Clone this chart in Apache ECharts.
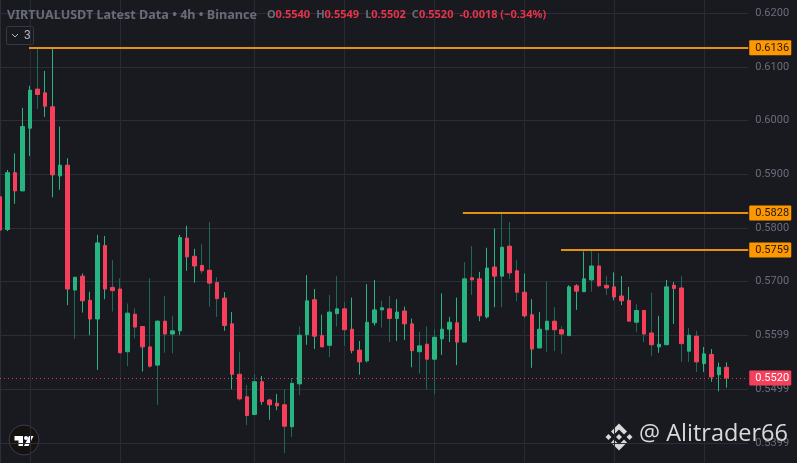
<!DOCTYPE html>
<html><head><meta charset="utf-8">
<style>html,body{margin:0;padding:0;background:#181a20}#c{width:797px;height:463px}</style>
<script src="https://cdn.jsdelivr.net/npm/echarts@6/dist/echarts.min.js"></script>
</head><body><div id="c"></div>
<script>
const opens = [.5858,.5797,.5903,.5869,.5986,.6059,.6052,.6026,.5897,.5917,.5684,.5710,.5665,.5630,.5767,.5689,.5686,.5569,.5639,.5616,.5578,.5544,.5626,.5602,.5608,.5781,.5747,.5730,.5721,.5698,.5669,.5621,.5527,.5485,.5452,.5513,.5479,.5473,.5470,.5429,.5509,.5601,.5666,.5599,.5581,.5640,.5649,.5611,.5572,.5552,.5623,.5647,.5649,.5631,.5645,.5621,.5569,.5583,.5555,.5593,.5611,.5623,.5587,.5707,.5705,.5634,.5727,.5710,.5766,.5720,.5680,.5638,.5576,.5610,.5626,.5610,.5599,.5692,.5681,.5703,.5729,.5693,.5690,.5673,.5665,.5624,.5646,.5604,.5578,.5582,.5693,.5688,.5570,.5598,.5547,.5564,.5526,.5540];
const closes = [.5796,.5903,.5869,.5989,.6057,.6049,.6027,.5899,.5917,.5686,.5708,.5664,.5630,.5772,.5686,.5683,.5567,.5641,.5615,.5578,.5542,.5626,.5602,.5608,.5782,.5746,.5729,.5720,.5697,.5668,.5618,.5527,.5481,.5450,.5513,.5476,.5470,.5468,.5430,.5510,.5600,.5664,.5598,.5578,.5643,.5649,.5610,.5571,.5550,.5624,.5647,.5651,.5631,.5643,.5621,.5571,.5580,.5555,.5596,.5611,.5624,.5587,.5705,.5703,.5636,.5725,.5710,.5764,.5716,.5680,.5636,.5574,.5611,.5626,.5610,.5602,.5690,.5682,.5705,.5729,.5692,.5688,.5671,.5664,.5626,.5646,.5602,.5582,.5583,.5690,.5687,.5584,.5600,.5550,.5565,.5522,.5540,.5520];
const highs = [.5858,.5908,.5939,.6024,.6065,.6136,.6093,.6136,.5989,.5930,.5708,.5715,.5681,.5787,.5785,.5740,.5706,.5659,.5650,.5616,.5706,.5628,.5673,.5636,.5787,.5804,.5761,.5770,.5811,.5708,.5680,.5643,.5569,.5507,.5527,.5524,.5481,.5490,.5499,.5520,.5616,.5712,.5686,.5638,.5675,.5710,.5662,.5670,.5589,.5695,.5703,.5664,.5673,.5667,.5653,.5631,.5606,.5616,.5611,.5678,.5634,.5670,.5736,.5766,.5718,.5763,.5799,.5830,.5811,.5740,.5715,.5667,.5643,.5700,.5652,.5617,.5693,.5695,.5756,.5757,.5753,.5710,.5717,.5710,.5690,.5658,.5647,.5679,.5636,.5703,.5699,.5710,.5613,.5608,.5578,.5574,.5549,.5549];
const lows = [.5794,.5794,.5845,.5869,.5934,.6022,.6007,.5857,.5871,.5656,.5593,.5642,.5600,.5535,.5667,.5644,.5567,.5542,.5594,.5532,.5539,.5470,.5567,.5566,.5600,.5720,.5698,.5715,.5653,.5634,.5608,.5499,.5478,.5432,.5452,.5470,.5442,.5460,.5380,.5410,.5488,.5582,.5574,.5578,.5559,.5616,.5580,.5566,.5526,.5549,.5618,.5614,.5587,.5589,.5591,.5540,.5528,.5499,.5490,.5563,.5587,.5544,.5587,.5675,.5626,.5631,.5652,.5652,.5705,.5663,.5633,.5539,.5576,.5569,.5570,.5565,.5599,.5647,.5681,.5681,.5690,.5675,.5665,.5656,.5626,.5606,.5587,.5561,.5567,.5582,.5621,.5550,.5550,.5531,.5531,.5513,.5495,.5502];
const dimWicks = [5,10,15,16,17,18,20,21,22,23,27,28,29,32,33,34,38,39,40,44,45,46,51,52,56,57,58,62,63,67,68,69,73,74,75,79,80,81,85,86,87,91,92,93];
const priceTicks = [.62,.61,.60,.59,.58,.57,.5599,.5499,.5399];
const gridCandles = [4,16,34,46,58,70,82,94];
const levelValues = [.6136,.5828,.5759];
const levelStarts = [3.87,61.8,74.9];
const lastClose = .5520;
const titleText = 'VIRTUALUSDT Latest Data • 4h • Binance';
const change = '-0.0018 (−0.34%)';
const watermark = '@ Alitrader66';

const RED='#f6405b', GREEN='#27b480', DRED='#7d2c3f', DGREEN='#1c6a55', GRID='#2a2e39';
const xs = opens.map((_,i)=>i);
const wickData = xs.map(i=>{
  const dim = dimWicks.includes(i);
  const up = dim?DGREEN:'#27b480', dn = dim?DRED:'#f23f5d';
  return {value:[i,opens[i],closes[i],lows[i],highs[i]],
    itemStyle:{color:up,color0:dn,borderColor:up,borderColor0:dn}};
});
const bodyData = xs.map(i=>[i,opens[i],closes[i],Math.min(opens[i],closes[i]),Math.max(opens[i],closes[i])]);
const fmt = v=>v.toFixed(4);
const last = opens.length-1;
const ohlc = `{g|O}{r|${fmt(opens[last])}}{s| }{g|H}{r|${fmt(highs[last])}}{s| }{g|L}{r|${fmt(lows[last])}}{s| }{g|C}{r|${fmt(closes[last])}}{s| }{r|${change}}`;
const XMAX = 99.9;
const levelLines = levelValues.map((v,k)=>[
  {coord:[levelStarts[k],v],lineStyle:{color:'#e8900f',width:2,type:'solid'},
   label:{show:true,position:'end',distance:1,formatter:fmt(v),color:'#1d1a10',fontSize:11,fontFamily:'Roboto',
     backgroundColor:'#ff9800',padding:[2,5,2,6],lineHeight:11,width:31,borderRadius:1}},
  {coord:[XMAX,v]}
]);
const priceLine = [
  {coord:[0,lastClose],lineStyle:{color:'#d63a52',width:1,type:[1,3]},
   label:{show:true,position:'end',distance:1,formatter:fmt(lastClose),color:'#ffffff',fontSize:11,fontFamily:'Roboto',
     backgroundColor:'#f6405b',padding:[2,5,2,6],lineHeight:11,width:31,borderRadius:1}},
  {coord:[XMAX,lastClose]}
];
const poly=(pts,fill,cx=0,cy=0)=>({type:'polygon',silent:true,shape:{points:pts.map(p=>[p[0]+cx,p[1]+cy])},style:{fill}});
const WM='#d9d9d9', BX=619, BY=437;
const graphics=[
  {type:'rect',silent:true,shape:{x:6.5,y:26.5,width:27,height:18,r:2},style:{fill:'transparent',stroke:'#363a45',lineWidth:1}},
  {type:'polyline',silent:true,shape:{points:[[12,34],[15,37],[18,34]]},style:{stroke:'#b2b5be',fill:null,lineWidth:1}},
  {type:'text',silent:true,style:{text:'3',x:24,y:29.5,fill:'#b2b5be',font:'12px Roboto'}},
  {type:'circle',silent:true,shape:{cx:24,cy:440,r:15},style:{fill:'#161210',stroke:'#3a3d46',lineWidth:1}},
  poly([[14.5,436],[23,436],[23,446],[18.5,446],[18.5,440.5],[14.5,440.5]],'#fff'),
  {type:'circle',silent:true,shape:{cx:26,cy:438,r:2},style:{fill:'#fff'}},
  poly([[29,436],[33.5,436],[28.5,446],[24,446]],'#fff'),
  poly([[0,-13.5],[8,-5.5],[5,-2.5],[0,-7.5],[-5,-2.5],[-8,-5.5]],WM,BX,BY),
  poly([[0,13.5],[8,5.5],[5,2.5],[0,7.5],[-5,2.5],[-8,5.5]],WM,BX,BY),
  poly([[0,-3],[3,0],[0,3],[-3,0]],WM,BX,BY),
  poly([[-10.5,-3],[-7.5,0],[-10.5,3],[-13.5,0]],WM,BX,BY),
  poly([[10.5,-3],[13.5,0],[10.5,3],[7.5,0]],WM,BX,BY),
  {type:'text',silent:true,z:100,style:{text:watermark,x:639,y:422,fill:WM,font:'23.5px "Open Sans"',shadowColor:'rgba(0,0,0,0.7)',shadowBlur:2,shadowOffsetX:1,shadowOffsetY:1}}
];
const chart = echarts.init(document.getElementById('c'),null,{renderer:'canvas'});
chart.setOption({
  animation:false,
  backgroundColor:'#181a20',
  title:{left:2,top:1,text:`{n|${titleText}}{t| }${ohlc}`,textStyle:{rich:{
    n:{color:'#686c78',fontSize:12.6,fontFamily:'Noto Sans'},
    t:{width:10},
    s:{width:6},
    g:{color:'#686c78',fontSize:11,fontFamily:'Noto Sans'},
    r:{color:'#e8334a',fontSize:11,fontFamily:'Noto Sans'}}}},
  grid:{left:0,top:0,width:748.25,height:463},
  xAxis:{type:'value',min:0,max:XMAX,axisLabel:{show:false},axisLine:{show:false},
    axisTick:{show:false,customValues:gridCandles},
    splitLine:{show:true,lineStyle:{color:'#272b35',width:1}}},
  yAxis:{type:'value',position:'right',min:.53614,max:.62252,
    axisLine:{show:true,lineStyle:{color:GRID}},
    axisTick:{show:false,customValues:priceTicks},
    axisLabel:{customValues:priceTicks,formatter:fmt,color:'#6a6e7a',fontSize:11,fontFamily:'Roboto',margin:7,padding:[2,0,0,0]},
    splitLine:{show:true,lineStyle:{color:GRID,width:1}}},
  series:[
    {type:'candlestick',name:'wicks',barWidth:1,encode:{x:0,y:[1,2,3,4]},data:wickData,clip:true,z:2},
    {type:'candlestick',name:'bodies',barWidth:4,encode:{x:0,y:[1,2,3,4]},data:bodyData,clip:true,z:3,
      itemStyle:{color:GREEN,color0:RED,borderColor:GREEN,borderColor0:RED,borderWidth:1},
      markLine:{silent:true,symbol:'none',animation:false,data:[...levelLines,priceLine]}}
  ],
  graphic:graphics
});
</script></body></html>
